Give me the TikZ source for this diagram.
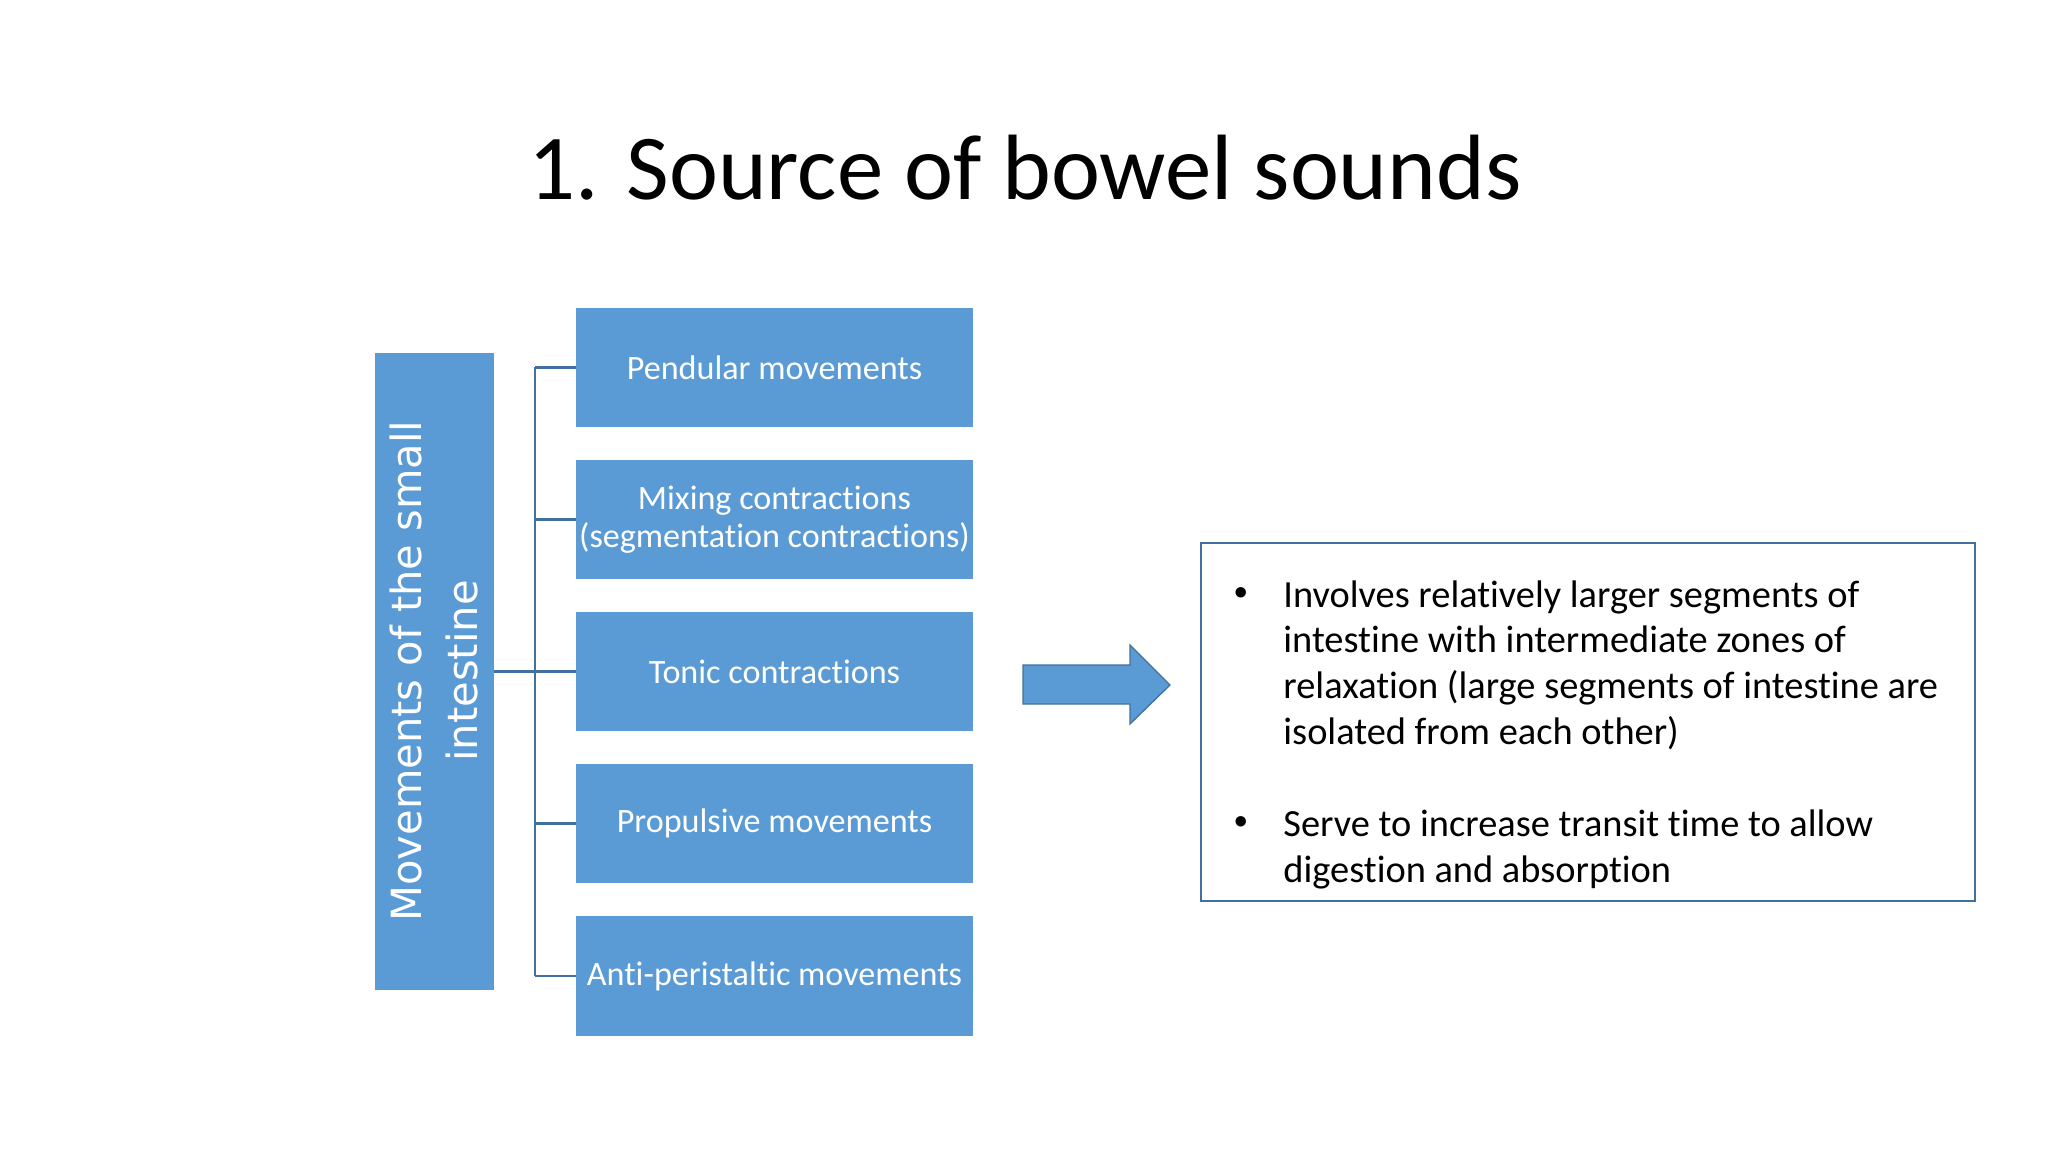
\documentclass[tikz,border=0pt]{standalone}
\usepackage{fontspec}
\setmainfont{Carlito}[Ligatures=NoCommon]
\newfontfamily\vfont{DejaVu Sans}
\newfontfamily\bulfont{Liberation Sans}
\definecolor{boxblue}{HTML}{5B9BD5}
\definecolor{lineblue}{HTML}{41719C}
\begin{document}
\begin{tikzpicture}[x=0.46875pt,y=-0.46875pt,
  itembox/.style={rectangle, fill=boxblue, draw=none, inner sep=0pt,
    minimum width=186.1pt, minimum height=55.8pt, text=white, align=center,
    font=\fontsize{16}{18}\selectfont},
  conn/.style={draw=lineblue, line width=1pt},
  bullettext/.style={anchor=base west, inner sep=0pt, align=left,
    font=\fontsize{18}{21.4}\selectfont},
  bulletmark/.style={anchor=base, inner sep=0pt, font=\bulfont\fontsize{18}{21.4}\selectfont}]
\useasboundingbox (0,0) rectangle (2048,1152);
\fill[white] (0,0) rectangle (2048,1152);

% title
\node[anchor=base, inner sep=0pt, font=\fontsize{43.5}{52}\selectfont] (title) at (1025,200) {1. Source of bowel sounds};

% left vertical box
\node[rectangle, fill=boxblue, inner sep=0pt, minimum width=55.8pt, minimum height=298.6pt] (main) at (434.5,671.5) {};
\node[rotate=90, text=white, align=center, inner sep=0pt,
  font=\vfont\fontsize{19.5}{25.8}\selectfont] (maintext) at (434,671) {Movements of the small\\intestine};

% child boxes
\node[itembox] (b1) at (774.5,367.5) {Pendular movements};
\node[itembox] (b2) at (774.5,519.5) {Mixing contractions\\(segmentation contractions)};
\node[itembox] (b3) at (774.5,671.5) {Tonic contractions};
\node[itembox] (b4) at (774.5,823.5) {Propulsive movements};
\node[itembox] (b5) at (774.5,976) {Anti-peristaltic movements};

% connectors
\coordinate (jt) at (535,671.5);
\coordinate (top) at (535,367.5);
\coordinate (bot) at (535,976);
\draw[conn] (main.east) -- (jt);
\draw[conn] (top) -- (bot);
\draw[conn] (top) -- (b1.west);
\draw[conn] (b2.west -| jt) -- (b2.west);
\draw[conn] (jt) -- (b3.west);
\draw[conn] (b4.west -| jt) -- (b4.west);
\draw[conn] (bot) -- (b5.west);

% block arrow
\draw[fill=boxblue, draw=lineblue, line width=0.6pt, line join=miter]
  (1023,665) -- (1130,665) -- (1130,645) -- (1170,685) -- (1130,724)
  -- (1130,704) -- (1023,704) -- cycle;

% right box
\node[rectangle, draw=lineblue, line width=1pt, inner sep=0pt,
  minimum width=362.8pt, minimum height=167.8pt] (desc) at (1588,722) {};

\node[bulletmark] (bul1) at (1241,605) {•};
\node[bullettext] (t1) at (1283,744) {Involves relatively larger segments of\\intestine with intermediate zones of\\relaxation (large segments of intestine are\\isolated from each other)};
\node[bulletmark] (bul2) at (1241,834) {•};
\node[bullettext] (t2) at (1283,882) {Serve to increase transit time to allow\\digestion and absorption};
\end{tikzpicture}
\end{document}
